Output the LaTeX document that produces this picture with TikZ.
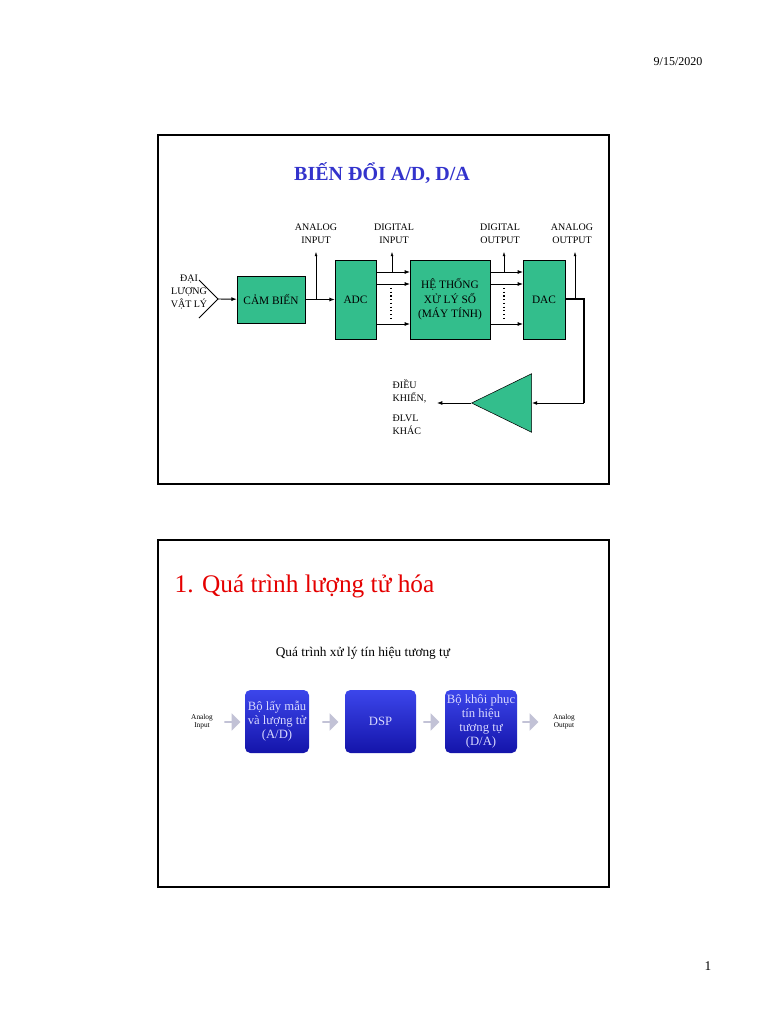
\documentclass[tikz,border=0pt]{standalone}
\usepackage{fontspec}
\setmainfont{Liberation Serif}
\usetikzlibrary{arrows.meta,shapes.arrows,shapes.geometric}
\definecolor{gbox}{RGB}{51,190,140}
\definecolor{ttl}{RGB}{51,51,204}
\definecolor{bdark}{RGB}{20,20,170}
\definecolor{blight}{RGB}{60,70,235}
\tikzset{
 g/.style={draw=black,fill=gbox,font=\fontsize{8.5}{11}\selectfont,align=center,inner sep=0},
 lbl/.style={font=\fontsize{7.5}{9.5}\selectfont,align=center},
 ln/.style={line width=0.7pt,-{Latex[length=4pt,width=3pt]}},
 tap/.style={line width=0.3pt,-{Latex[length=3pt,width=2pt]}},
 bb/.style={rounded corners=4pt,top color=blight,bottom color=bdark,draw=none,text=white!85!blue,font=\fontsize{9.5}{10.5}\selectfont,align=center,inner sep=0},
 barr/.style={single arrow,fill=blue!20!gray!40,draw=none,minimum width=13pt,single arrow head extend=2pt,minimum height=12pt,inner sep=0}
}
\begin{document}
\begin{tikzpicture}[x=0.75pt,y=-0.75pt]
\useasboundingbox (0,0) rectangle (768,1024);
\fill[white] (0,0) rectangle (768,1024);
\node[font=\fontsize{9}{10}\selectfont] (date) at (678,62) {9/15/2020};
\node[font=\fontsize{10}{11}\selectfont] (pg) at (708,966) {1};
% frame 1
\draw[line width=0.8pt] (158,135) rectangle (609,484);
\node[font=\bfseries\fontsize{15}{17}\selectfont,text=ttl] (t1) at (382,173) {BIẾN ĐỔI A/D, D/A};
\node[g,minimum width=68*0.75pt,minimum height=47*0.75pt] (cb) at (271,299.5) {CẢM BIẾN};
\node[g,minimum width=41*0.75pt,minimum height=79*0.75pt] (adc) at (355.5,299.5) {ADC};
\node[g,minimum width=80*0.75pt,minimum height=79*0.75pt] (ht) at (450,299.5) {HỆ THỐNG\\XỬ LÝ SỐ\\(MÁY TÍNH)};
\node[g,minimum width=42*0.75pt,minimum height=79*0.75pt] (dac) at (544,299.5) {DAC};
\node[lbl] (dl) at (189,292) {ĐẠI\\LƯỢNG\\VẬT LÝ};
\coordinate (v) at (218,299);
\draw[line width=0.7pt] (199,280) -- (v) -- (199,318);
\draw[ln] (v) -- (cb);
\draw[ln] (cb) -- (adc);
\coordinate (ai) at (316,299);
\coordinate (ait) at (316,252);
\draw[tap] (ai) -- (ait);
\node[lbl] at (316,234) {ANALOG\\INPUT};
\foreach \y in {272,284,324}{
 \draw[ln] (376,\y) -- (410,\y);
 \draw[ln] (490,\y) -- (523,\y);}
\draw[dotted,line width=0.8pt] (391,288) -- (391,318);
\draw[dotted,line width=0.8pt] (504,288) -- (504,318);
\draw[tap] (392,272) -- (392,252);
\node[lbl] at (394,234) {DIGITAL\\INPUT};
\draw[tap] (504,272) -- (504,252);
\node[lbl] at (500,234) {DIGITAL\\OUTPUT};
\draw[tap] (575,299) -- (575,252);
\node[lbl] at (572,234) {ANALOG\\OUTPUT};
\node[draw=black,fill=gbox,isosceles triangle,isosceles triangle apex angle=52,shape border rotate=180,minimum height=60*0.75pt,inner sep=0,anchor=apex] (amp) at (471,403) {};
\draw[line width=1.2pt] (dac.east|-0,299) -- (584,299) -- (584,403);
\draw[ln] (584,403) -- (amp.east|-0,403);
\coordinate (out) at (437,403);
\draw[ln] (amp.apex) -- (out);
\node[lbl,align=left,anchor=west] at (388,391) {ĐIỀU\\KHIỂN,};
\node[lbl,align=left,anchor=west] at (388,425) {ĐLVL\\KHÁC};
% frame 2
\draw[line width=0.8pt] (158,540) rectangle (609,887);
\node[anchor=west,text=red!90!black,font=\fontsize{19}{21}\selectfont] at (170,586) {1. Quá trình lượng tử hóa};
\node[font=\fontsize{10}{11}\selectfont] at (363,653) {Quá trình xử lý tín hiệu tương tự};
\node[bb,minimum width=64*0.75pt,minimum height=63*0.75pt] (b1) at (277,721.5) {Bộ lấy mẫu\\và lượng tử\\(A/D)};
\node[bb,minimum width=71*0.75pt,minimum height=63*0.75pt] (b2) at (380.5,721.5) {DSP};
\node[bb,minimum width=72*0.75pt,minimum height=63*0.75pt] (b3) at (481,721.5) {Bộ khôi phục\\tín hiệu\\tương tự\\(D/A)};
\node[font=\fontsize{5.5}{6}\selectfont,align=center] (ain) at (202,722) {Analog\\Input};
\node[font=\fontsize{5.5}{6}\selectfont,align=center] (aout) at (564,722) {Analog\\Output};
\node[barr] at (232,722) {};
\node[barr] at (330,722) {};
\node[barr] at (431,722) {};
\node[barr] at (530,722) {};
\end{tikzpicture}
\end{document}
